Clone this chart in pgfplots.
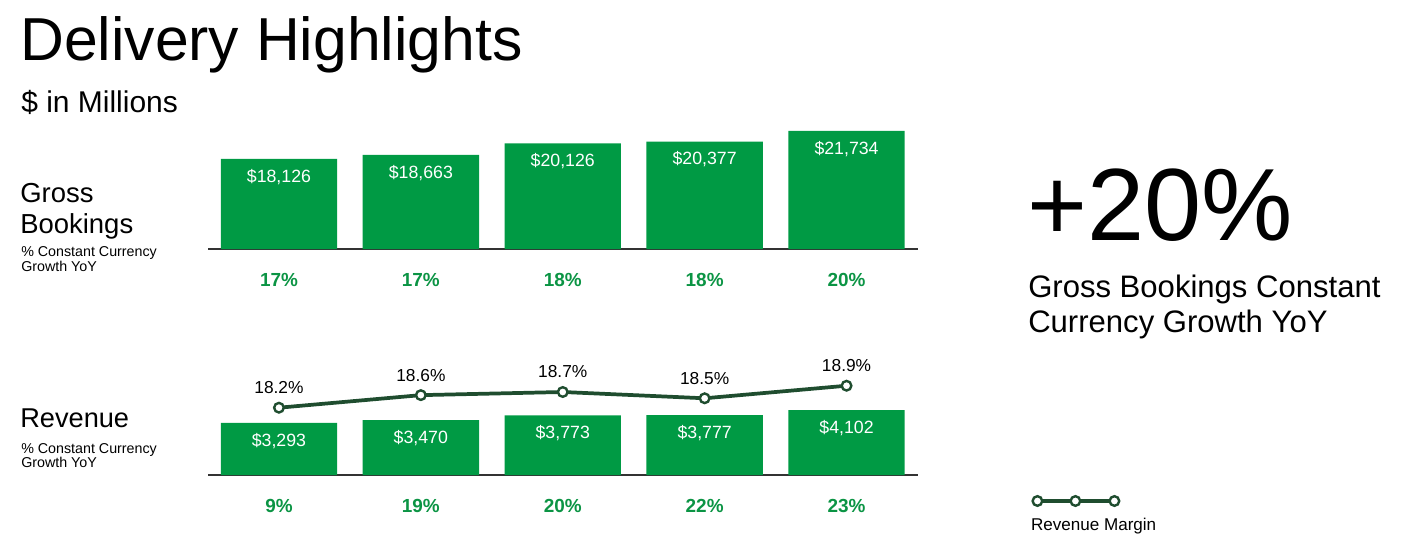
\documentclass[border=0pt]{standalone}
\usepackage{fontspec}
\setmainfont{Liberation Sans}
\usepackage{pgfplots}
\pgfplotsset{compat=1.18}
\definecolor{ubgreen}{HTML}{009A44}
\definecolor{pctgreen}{HTML}{0B9444}
\definecolor{lnGreen}{HTML}{1F4D2F}
\pgfplotsset{
  barbase/.style={
    scale only axis, width=532.125pt, xmin=-0.5, xmax=4.5,
    axis x line=bottom, axis y line=none,
    axis line style={-, black!80, line width=1pt},
    xtick={0,...,4}, major tick length=0pt,
    xticklabel style={anchor=base, yshift=-27.75pt, font=\fontsize{14.2}{16}\selectfont\bfseries, text=pctgreen},
    ytick=\empty, clip=false,
    ybar, bar width=0.82,
  },
  barplot/.style={
    fill=ubgreen, draw=none,
    nodes near coords={\$\pgfmathprintnumber[fixed,precision=0,1000 sep={,},assume math mode=true]{\pgfplotspointmeta}},
    every node near coord/.append style={anchor=base, yshift=-17.6pt, text=white, font=\fontsize{13.3}{15}\selectfont},
  },
}
\begin{document}
\begin{tikzpicture}
\path[use as bounding box] (0pt,0pt) rectangle (1055.25pt,-404.25pt);

% Gross bookings
\begin{axis}[barbase, at={(156pt,-186.75pt)}, anchor=south west, height=90pt,
  ymin=6528, ymax=21991,
  xticklabels={17\%,17\%,18\%,18\%,20\%}]
\addplot[barplot] coordinates {(0,18126) (1,18663) (2,20126) (3,20377) (4,21734)};
\end{axis}

% Revenue
\begin{axis}[barbase, at={(156pt,-356.25pt)}, anchor=south west, height=52.5pt,
  ymin=0, ymax=4424,
  xticklabels={9\%,19\%,20\%,22\%,23\%}]
\addplot[barplot] coordinates {(0,3293) (1,3470) (2,3773) (3,3777) (4,4102)};
\end{axis}

% Revenue margin
\begin{axis}[at={(156pt,-315pt)}, anchor=south west, scale only axis,
  width=532.125pt, height=37.5pt, xmin=-0.5, xmax=4.5,
  ymin=17.808, ymax=19.4006, axis lines=none, clip=false,
  legend style={draw=none, fill=none, inner sep=0pt, outer sep=0pt,
    at={(1.16,-1.50)}, anchor=north west},
  legend image code/.code={
    \draw[lnGreen, line width=2.6pt] (0pt,0pt) -- (57.75pt,0pt);
    \draw[lnGreen, fill=white, line width=1.8pt] (0pt,0pt) circle (3.6pt);
    \draw[lnGreen, fill=white, line width=1.8pt] (28.5pt,0pt) circle (3.6pt);
    \draw[lnGreen, fill=white, line width=1.8pt] (57.75pt,0pt) circle (3.6pt);
    \node[anchor=base west, inner sep=0pt, text=black, font=\fontsize{12.8}{14}\selectfont] at (-4.8pt,-21.75pt) {Revenue Margin};
  }]
\addplot[lnGreen, line width=2.8pt, mark=*, mark size=3.6pt,
  mark options={fill=white, draw=lnGreen, line width=1.8pt},
  nodes near coords={\pgfmathprintnumber[fixed,precision=1,fixed zerofill,assume math mode=true]{\pgfplotspointmeta}\%},
  every node near coord/.append style={anchor=base, yshift=10.6pt, text=black, font=\fontsize{13}{15}\selectfont}]
  coordinates {(0,18.2) (1,18.6) (2,18.7) (3,18.5) (4,18.9)};
\addlegendentry{}
\end{axis}

\begin{scope}[x=0.75pt, y=-0.75pt, every node/.style={inner sep=0pt, anchor=base west}]
\node[font=\fontsize{45.5}{50}\selectfont] at (20,60) {Delivery Highlights};
\node[font=\fontsize{22.5}{26}\selectfont] at (21,112) {\$ in Millions};
\node[font=\fontsize{20.6}{24}\selectfont] at (20,202) {Gross};
\node[font=\fontsize{20.6}{24}\selectfont] at (20,233) {Bookings};
\node[font=\fontsize{10.7}{12}\selectfont] at (21,256) {\% Constant Currency};
\node[font=\fontsize{10.7}{12}\selectfont] at (21,271) {Growth YoY};
\node[font=\fontsize{20.4}{24}\selectfont] at (20,427) {Revenue};
\node[font=\fontsize{10.7}{12}\selectfont] at (21,453) {\% Constant Currency};
\node[font=\fontsize{10.7}{12}\selectfont] at (21,467) {Growth YoY};
\node[font=\fontsize{77}{80}\selectfont] at (1027,240) {+20\%};
\node[font=\fontsize{23.3}{27}\selectfont] at (1028,297) {Gross Bookings Constant};
\node[font=\fontsize{23.3}{27}\selectfont] at (1028,332) {Currency Growth YoY};
\end{scope}
\end{tikzpicture}
\end{document}
